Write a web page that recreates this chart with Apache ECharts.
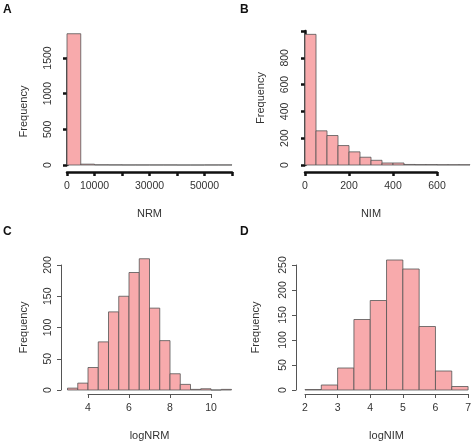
<!DOCTYPE html>
<html><head><meta charset="utf-8">
<script src="https://cdn.jsdelivr.net/npm/echarts@6/dist/echarts.min.js"></script>
<style>html,body{margin:0;padding:0;background:#fff}#c{width:474px;height:445px}</style>
</head><body><div id="c"></div>
<script>
// Histogram bins: [start, end, frequency]
const binsNRM = [[0,5000,1840],[5000,10000,12],[10000,15000,3],[15000,20000,2],[20000,25000,1],[25000,30000,1],[30000,35000,1],[35000,40000,1],[40000,45000,0],[45000,50000,0],[50000,55000,1],[55000,60000,1]];
const binsNIM = [[0,50,975],[50,100,255],[100,150,220],[150,200,145],[200,250,98],[250,300,58],[300,350,35],[350,400,15],[400,450,15],[450,500,4],[500,550,3],[550,600,3],[600,650,2],[650,700,2],[700,750,2]];
const binsLogNRM = [[3,3.5,3],[3.5,4,11],[4,4.5,36],[4.5,5,77],[5,5.5,125],[5.5,6,150],[6,6.5,188],[6.5,7,210],[7,7.5,131],[7.5,8,79],[8,8.5,26],[8.5,9,9],[9,9.5,1],[9.5,10,2],[10,10.5,0],[10.5,11,1]];
const binsLogNIM = [[2,2.5,1],[2.5,3,10],[3,3.5,44],[3.5,4,141],[4,4.5,179],[4.5,5,260],[5,5.5,242],[5.5,6,127],[6,6.5,38],[6.5,7,7]];
const panelLetters = ['A','B','C','D'];
const xNames = ['NRM','NIM','logNRM','logNIM'];

const W=474,H=445;
const grids = [
  {left:67, top:58, right:W-232, bottom:H-165},
  {left:305, top:31, right:W-437, bottom:H-165},
  {left:88, top:265, right:W-211, bottom:H-390},
  {left:305, top:265, right:W-469, bottom:H-390}
];
const font = 'Liberation Sans, Arial, sans-serif';
const heavy = [true,true,false,false];
const xCfg = [
  {min:0,max:60000,interval:10000,hide:[20000,40000,60000]},
  {min:0,max:600,interval:200,hide:[]},
  {min:4,max:10,interval:2,hide:[]},
  {min:2,max:7,interval:1,hide:[]}
];
const yCfg = [
  {max:1500,interval:500,hide:[]},
  {max:1000,interval:200,hide:[1000]},
  {max:200,interval:50,hide:[]},
  {max:250,interval:50,hide:[]}
];
const yOff=[6,7,27,9], xOff=[7,7,4,4];
const yNameGap=[32,32,53,35];
const allBins=[binsNRM,binsNIM,binsLogNRM,binsLogNIM];

function lineStyle(i){return heavy[i]?{color:'#111',width:2.5}:{color:'#555',width:1};}

const option = {
  animation:false,
  grid: grids,
  xAxis: grids.map((g,i)=>({
    type:'value', gridIndex:i, min:xCfg[i].min, max:xCfg[i].max, interval:xCfg[i].interval,
    offset:xOff[i], name:xNames[i], nameLocation:'middle', nameGap:36,
    nameTextStyle:{fontFamily:font,fontSize:11,color:'#333'},
    axisLine:{show:true,onZero:false,lineStyle:lineStyle(i)},
    axisTick:{show:true,length:4,lineStyle:lineStyle(i)},
    splitLine:{show:false},
    axisLabel:{fontFamily:font,fontSize:10.5,color:'#333',margin:9,showMinLabel:true,showMaxLabel:true,
      formatter:v=>xCfg[i].hide.includes(v)?'':String(v)}
  })),
  yAxis: grids.map((g,i)=>({
    type:'value', gridIndex:i, min:0, max:yCfg[i].max, interval:yCfg[i].interval,
    offset:yOff[i], name:'Frequency', nameLocation:'middle', nameGap:yNameGap[i]-(i==2?21:0)+ (i==2?0:0),
    nameTextStyle:{fontFamily:font,fontSize:11,color:'#333'},
    axisLine:{show:true,lineStyle:lineStyle(i)},
    axisTick:{show:true,length:4,lineStyle:lineStyle(i)},
    splitLine:{show:false},
    axisLabel:{fontFamily:font,fontSize:10.5,color:'#333',rotate:90,margin:7,
      formatter:v=>yCfg[i].hide.includes(v)?'':String(v)}
  })),
  series: allBins.map((bins,i)=>({
    type:'custom', xAxisIndex:i, yAxisIndex:i, clip:false,
    data:bins, encode:{x:[0,1],y:2},
    renderItem:(params,api)=>{
      const p0=api.coord([api.value(0),api.value(2)]);
      const p1=api.coord([api.value(1),0]);
      return {type:'rect',shape:{x:p0[0],y:p0[1],width:p1[0]-p0[0],height:p1[1]-p0[1]},
        style:{fill:'#f8aaac',stroke:'#555',lineWidth:0.8}};
    }
  })),
  graphic: panelLetters.map((t,i)=>({type:'text',left:i%2?240:3,top:i<2?4:226,
    style:{text:t,font:'bold 12px '+font,fill:'#111'}}))
};
echarts.init(document.getElementById('c')).setOption(option);
</script></body></html>
